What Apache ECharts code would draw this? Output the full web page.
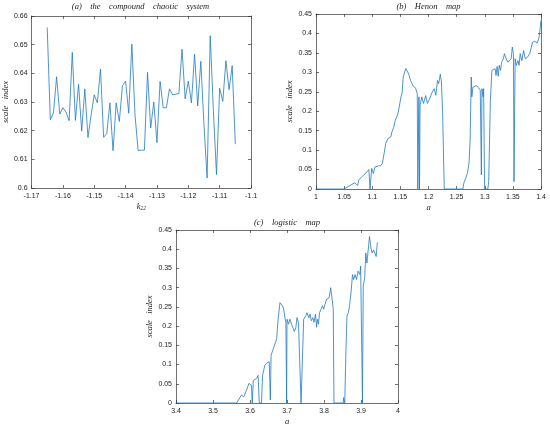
<!DOCTYPE html>
<html>
<head>
<meta charset="utf-8">
<script src="https://cdn.jsdelivr.net/npm/echarts@6/dist/echarts.min.js"></script>
<style>
html,body{margin:0;padding:0;background:#fff;}
#chart{width:550px;height:427px;}
</style>
</head>
<body>
<div id="chart"></div>
<script>
// ---------- (a) the compound chaotic system ----------
var kValues = [-1.165,-1.164,-1.163,-1.162,-1.161,-1.160,-1.159,-1.158,-1.157,-1.156,
  -1.155,-1.154,-1.153,-1.152,-1.151,-1.150,-1.149,-1.148,-1.147,-1.146,
  -1.145,-1.144,-1.143,-1.142,-1.141,-1.140,-1.139,-1.138,-1.137,-1.136,
  -1.135,-1.134,-1.133,-1.132,-1.131,-1.130,-1.129,-1.128,-1.127,-1.126,
  -1.125,-1.124,-1.123,-1.122,-1.121,-1.120,-1.119,-1.118,-1.117,-1.116,
  -1.115,-1.114,-1.113,-1.112,-1.111,-1.110,-1.109,-1.108,-1.107,-1.106,-1.105];
var scaleA = [0.656,0.6238,0.6262,0.6388,0.6258,0.628,0.6265,0.6235,0.6473,0.6236,
  0.6362,0.6198,0.6346,0.6176,0.6255,0.6325,0.6297,0.6415,0.6177,0.619,
  0.6297,0.613,0.6297,0.6232,0.6357,0.6373,0.6261,0.6502,0.6255,0.6131,
  0.6132,0.6132,0.6403,0.6209,0.630,0.6158,0.6372,0.628,0.628,0.6346,
  0.6325,0.6327,0.633,0.6484,0.6311,0.6373,0.6297,0.6467,0.6286,0.6442,
  0.622,0.6035,0.6531,0.627,0.6047,0.6348,0.6302,0.6444,0.6343,0.6427,0.6153];

// ---------- (b) Henon map ----------
var henonA = [1.0,1.05,1.057,1.064,1.069,1.072,1.074,1.076,1.082,1.088,1.094,1.096,1.099,1.102,1.105,
  1.111,1.115,1.118,1.121,1.124,1.128,1.133,1.135,1.138,1.141,1.145,1.148,1.151,1.153,1.155,
  1.1596,1.162,1.165,1.168,1.173,1.177,1.18,1.181,1.183,1.184,1.185,1.188,1.191,1.195,1.198,
  1.202,1.206,1.21,1.213,1.216,1.218,1.221,1.223,1.225,1.228,1.261,1.263,1.266,1.269,1.272,
  1.274,1.276,1.277,1.279,1.282,1.285,1.289,1.292,1.294,1.295,1.297,1.298,1.2997,1.3055,1.307,
  1.31,1.3127,1.3156,1.3186,1.32,1.322,1.324,1.3257,1.328,1.33,1.333,1.335,1.338,1.341,
  1.344,1.347,1.349,1.351,1.352,1.354,1.356,1.359,1.361,1.363,1.366,1.369,1.372,1.376,
  1.38,1.385,1.389,1.393,1.396,1.398,1.4];
var henonIndex = [0,0,0.006,0.012,0.016,0.019,0.009,0.023,0.032,0.04,0.05,0,0.053,0.04,0.057,
  0.059,0.06,0.066,0.091,0.117,0.13,0.134,0.147,0.158,0.177,0.19,0.211,0.237,0.247,0.288,
  0.31,0.305,0.295,0.279,0.264,0.26,0.245,0,0.237,0,0.215,0.237,0.22,0.24,0.22,
  0.232,0.247,0.258,0.241,0.279,0.271,0.295,0.275,0.2,0,0,0.016,0.027,0.04,0.066,
  0.126,0.288,0.237,0.262,0.258,0.266,0.26,0.254,0.036,0.258,0.237,0.258,0,0,0.019,
  0.228,0.305,0.303,0.309,0.292,0.315,0.29,0.318,0.305,0.326,0.335,0.348,0.335,0.326,
  0.33,0.335,0.365,0.348,0.019,0.335,0.318,0.33,0.318,0.348,0.33,0.356,0.335,0.339,
  0.348,0.378,0.38,0.375,0.386,0.407,0.433];

// ---------- (c) logistic map ----------
var logisticA = [3.4,3.564,3.577,3.583,3.591,3.597,3.601,3.604,3.606,3.609,3.613,3.618,3.622,3.625,3.631,
  3.634,3.64,3.645,3.648,3.652,3.655,3.657,3.663,3.669,3.672,3.676,3.681,3.683,3.688,3.691,
  3.695,3.697,3.699,3.7,3.704,3.708,3.712,3.717,3.72,3.724,3.727,3.731,3.734,3.736,3.738,
  3.742,3.745,3.751,3.754,3.759,3.762,3.766,3.77,3.773,3.777,3.78,3.782,3.785,3.788,3.792,
  3.796,3.799,3.803,3.807,3.81,3.814,3.816,3.818,3.821,3.825,3.827,3.852,3.853,3.856,3.859,
  3.862,3.866,3.869,3.873,3.877,3.88,3.884,3.888,3.892,3.897,3.899,3.902,3.904,3.906,3.91,
  3.913,3.916,3.92,3.923,3.927,3.93,3.934,3.937,3.941,3.944,3.946];
var logisticIndex = [0,0,0.021,0.016,0.034,0.051,0.055,0.046,0,0.059,0.055,0.064,0.072,0,0,
  0.072,0.098,0.104,0.102,0.107,0.008,0.124,0.141,0.158,0.167,0.218,0.261,0.265,0.253,0.244,
  0.218,0.21,0,0.218,0.205,0.218,0.205,0.201,0.186,0.197,0.222,0.21,0.214,0.205,0,
  0,0.218,0.227,0.235,0.222,0.231,0.214,0.222,0.21,0.231,0.197,0.218,0.205,0.235,0.244,
  0.253,0.244,0.257,0.27,0.265,0.274,0.27,0.3,0.278,0.244,0,0,0.014,0,0.124,
  0.227,0.235,0.253,0.287,0.334,0.321,0.334,0.321,0.343,0.334,0.356,0.352,0,0.304,0.326,
  0.39,0.364,0.36,0.433,0.403,0.39,0.398,0.394,0.381,0.416,0.418];

var titles = ['(a)    the    compound    chaotic    system', '(b)    Henon    map', '(c)    logistic    map'];

function pairs(xs, ys){ var o=[]; for(var i=0;i<xs.length;i++){ o.push([xs[i], ys[i]]); } return o; }

var AX = '#333';
var LBL = {fontSize:7, color:'#222', fontFamily:'"Liberation Sans", Arial, sans-serif'};
var NAMEFONT = {fontSize:8.5, fontStyle:'italic', fontFamily:'"Liberation Serif", "Times New Roman", serif', color:'#222'};
function fmt(v){ return String(+v.toFixed(3)); }

function axis(gi, pos, min, max, interval, labels, extra){
  var a = {
    type:'value', gridIndex:gi, position:pos, min:min, max:max, interval:interval,
    axisLine:{show:true, onZero:false, lineStyle:{color:AX, width:0.7}},
    axisTick:{show:true, inside:true, length:3, lineStyle:{color:AX, width:0.7}},
    splitLine:{show:false},
    axisLabel:Object.assign({show:labels, margin:(pos==='bottom'?5:4), formatter:fmt}, LBL)
  };
  if(extra){ for(var k in extra){ a[k]=extra[k]; } }
  return a;
}

var yName = function(gap){ return {name:'scale   index', nameLocation:'middle', nameGap:gap, nameRotate:90, nameTextStyle:NAMEFONT}; };

var option = {
  animation:false,
  backgroundColor:'#fff',
  grid:[
    {left:30.5, top:16, width:220.5, height:172},
    {left:316, top:14, width:225, height:175},
    {left:176, top:230, width:222, height:175}
  ],
  xAxis:[
    axis(0,'bottom',-1.17,-1.1,0.01,true,{name:'{k|k}{s|22}', nameLocation:'middle', nameGap:13,
      nameTextStyle:{rich:{k:NAMEFONT, s:{fontSize:5.5, fontStyle:'italic', fontFamily:NAMEFONT.fontFamily, color:'#222', padding:[5,0,0,0]}}}}),
    axis(0,'top',-1.17,-1.1,0.01,false),
    axis(1,'bottom',1,1.4,0.05,true,{name:'a', nameLocation:'middle', nameGap:14, nameTextStyle:NAMEFONT}),
    axis(1,'top',1,1.4,0.05,false),
    axis(2,'bottom',3.4,4,0.1,true,{name:'a', nameLocation:'middle', nameGap:14, nameTextStyle:NAMEFONT}),
    axis(2,'top',3.4,4,0.1,false)
  ],
  yAxis:[
    axis(0,'left',0.6,0.66,0.01,true,yName(19)),
    axis(0,'right',0.6,0.66,0.01,false),
    axis(1,'left',0,0.45,0.05,true,yName(21)),
    axis(1,'right',0,0.45,0.05,false),
    axis(2,'left',0,0.45,0.05,true,yName(19)),
    axis(2,'right',0,0.45,0.05,false)
  ],
  graphic:[
    {type:'text', x:140.5, y:7, style:{text:titles[0], font:'italic 8.5px "Liberation Serif", serif', fill:'#222', textAlign:'center', textVerticalAlign:'middle'}},
    {type:'text', x:428.5, y:7, style:{text:titles[1], font:'italic 8.5px "Liberation Serif", serif', fill:'#222', textAlign:'center', textVerticalAlign:'middle'}},
    {type:'text', x:287, y:223, style:{text:titles[2], font:'italic 8.5px "Liberation Serif", serif', fill:'#222', textAlign:'center', textVerticalAlign:'middle'}}
  ],
  series:[
    {type:'line', xAxisIndex:0, yAxisIndex:0, data:pairs(kValues, scaleA), showSymbol:false, symbol:'none',
      lineStyle:{color:'#1f7ac4', width:0.8}},
    {type:'line', xAxisIndex:2, yAxisIndex:2, data:pairs(henonA, henonIndex), showSymbol:false, symbol:'none',
      lineStyle:{color:'#1f7ac4', width:0.8}},
    {type:'line', xAxisIndex:4, yAxisIndex:4, data:pairs(logisticA, logisticIndex), showSymbol:false, symbol:'none',
      lineStyle:{color:'#1f7ac4', width:0.8}}
  ]
};

var chart = echarts.init(document.getElementById('chart'), null, {renderer:'canvas'});
chart.setOption(option);
</script>
</body>
</html>
